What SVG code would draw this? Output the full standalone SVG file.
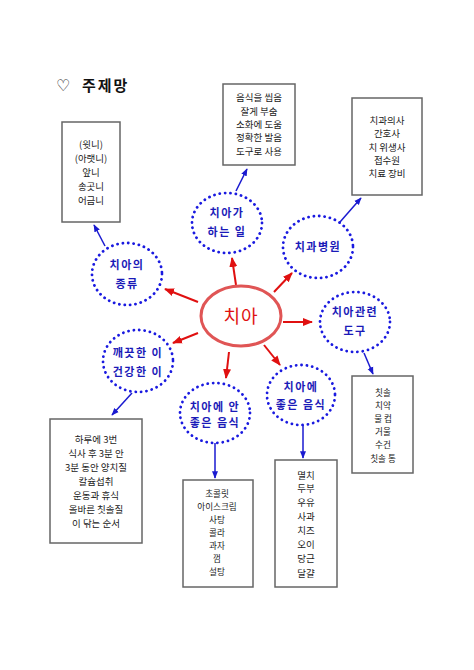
<svg xmlns="http://www.w3.org/2000/svg" width="474" height="670" viewBox="0 0 474 670">
<defs>
<marker id="ra" viewBox="0 0 10 10" refX="9" refY="5" markerWidth="5" markerHeight="5" orient="auto" markerUnits="strokeWidth"><path d="M0,1 L10,5 L0,9 z" fill="#e01010"/></marker>
<marker id="ba" viewBox="0 0 10 10" refX="9" refY="5" markerWidth="5" markerHeight="5" orient="auto" markerUnits="strokeWidth"><path d="M0,1 L10,5 L0,9 z" fill="#1a1ad0"/></marker>
<style>
.dot{fill:#fff;stroke:#1a1ae0;stroke-width:2.8;stroke-dasharray:0.1 5.3;stroke-linecap:round}
.ct{font-family:"Noto Sans CJK KR",sans-serif;font-size:11px;font-weight:bold;fill:#1a1ab8;text-anchor:middle;letter-spacing:1.5px}
.box{fill:#fff;stroke:#666;stroke-width:1.5}
.bt{font-family:"Noto Sans CJK KR",sans-serif;font-size:9.5px;fill:#222;text-anchor:middle}
.bs{font-size:8.6px}
.red{stroke:#e01010;stroke-width:2;fill:none;marker-end:url(#ra)}
.blue{stroke:#1a1ad0;stroke-width:1.5;fill:none;marker-end:url(#ba)}
</style>
</defs>
<rect width="474" height="670" fill="#fff"/>
<g id="title"><text x="56" y="91" font-family="DejaVu Sans,sans-serif" font-size="16" font-weight="bold" fill="#111">♡</text><text x="82" y="91" font-family="Noto Sans CJK KR,sans-serif" font-size="15" font-weight="bold" fill="#111" letter-spacing="2">주제망</text></g>

<g id="connectors">
<line class="red" x1="236" y1="285" x2="232" y2="258"/>
<line class="red" x1="274" y1="292" x2="292" y2="273"/>
<line class="red" x1="198" y1="302" x2="165" y2="289"/>
<line class="red" x1="283" y1="322" x2="312" y2="322"/>
<line class="red" x1="198" y1="333" x2="173" y2="343"/>
<line class="red" x1="229" y1="352" x2="226" y2="378"/>
<line class="red" x1="264" y1="345" x2="280" y2="365"/>
<line class="blue" x1="105" y1="246" x2="94" y2="225"/>
<line class="blue" x1="236" y1="191" x2="247" y2="169"/>
<line class="blue" x1="340" y1="222" x2="361" y2="198"/>
<line class="blue" x1="364" y1="353" x2="373" y2="374"/>
<line class="blue" x1="132" y1="393" x2="112" y2="415"/>
<line class="blue" x1="215" y1="443" x2="215" y2="478"/>
<line class="blue" x1="303" y1="425" x2="303" y2="458"/>
</g>

<g id="center"><ellipse cx="241" cy="316" rx="40" ry="30" fill="#fff" stroke="#e05555" stroke-width="3"/><text x="241" y="323" font-family="Noto Sans CJK KR,sans-serif" font-size="18" fill="#e01010" text-anchor="middle" letter-spacing="1">치아</text></g>

<g id="c-role"><ellipse class="dot" cx="227" cy="223" rx="35" ry="30"/><text class="ct" x="227" y="217">치아가</text><text class="ct" x="227" y="236">하는 일</text></g>
<g id="c-clinic"><ellipse class="dot" cx="318" cy="247" rx="35" ry="31"/><text class="ct" x="318" y="251">치과병원</text></g>
<g id="c-types"><ellipse class="dot" cx="127" cy="274" rx="35" ry="31"/><text class="ct" x="127" y="269">치아의</text><text class="ct" x="127" y="288">종류</text></g>
<g id="c-tools"><ellipse class="dot" cx="355" cy="322" rx="35" ry="30"/><text class="ct" x="355" y="316">치아관련</text><text class="ct" x="355" y="335">도구</text></g>
<g id="c-clean"><ellipse class="dot" cx="138" cy="361" rx="35" ry="31"/><text class="ct" x="138" y="357">깨끗한 이</text><text class="ct" x="138" y="376">건강한 이</text></g>
<g id="c-bad"><ellipse class="dot" cx="215" cy="413" rx="35" ry="30"/><text class="ct" x="215" y="411">치아에 안</text><text class="ct" x="215" y="427">좋은 음식</text></g>
<g id="c-good"><ellipse class="dot" cx="301" cy="395" rx="34" ry="30"/><text class="ct" x="301" y="391">치아에</text><text class="ct" x="301" y="409">좋은 음식</text></g>

<g id="b-types"><rect class="box" x="62" y="122" width="58" height="100"/><text class="bt" x="91" y="148">(윗니)</text><text class="bt" x="91" y="162">(아랫니)</text><text class="bt" x="91" y="176">앞니</text><text class="bt" x="91" y="190">송곳니</text><text class="bt" x="91" y="204">어금니</text></g>
<g id="b-role"><rect class="box" x="223" y="84" width="72" height="81"/><text class="bt" x="259" y="101">음식을 씹음</text><text class="bt" x="259" y="115">잘게 부숨</text><text class="bt" x="259" y="128">소화에 도움</text><text class="bt" x="259" y="141">정확한 발음</text><text class="bt" x="259" y="155">도구로 사용</text></g>
<g id="b-clinic"><rect class="box" x="352" y="98" width="70" height="97"/><text class="bt" x="387" y="124">치과의사</text><text class="bt" x="387" y="137">간호사</text><text class="bt" x="387" y="151">치 위생사</text><text class="bt" x="387" y="164">접수원</text><text class="bt" x="387" y="177">치료 장비</text></g>
<g id="b-tools"><rect class="box" x="352" y="376" width="61" height="97"/><text class="bt bs" x="383" y="396">칫솔</text><text class="bt bs" x="383" y="409">치약</text><text class="bt bs" x="383" y="422">물 컵</text><text class="bt bs" x="383" y="435">거울</text><text class="bt bs" x="383" y="448">수건</text><text class="bt bs" x="383" y="462">칫솔 통</text></g>
<g id="b-clean"><rect class="box" x="50" y="419" width="92" height="124"/><text class="bt" x="96" y="443">하루에 3번</text><text class="bt" x="96" y="457">식사 후 3분 안</text><text class="bt" x="96" y="471">3분 동안 양치질</text><text class="bt" x="96" y="485">칼슘섭취</text><text class="bt" x="96" y="499">운동과 휴식</text><text class="bt" x="96" y="513">올바른 칫솔질</text><text class="bt" x="96" y="527">이 닦는 순서</text></g>
<g id="b-bad"><rect class="box" x="183" y="480" width="70" height="107"/><text class="bt bs" x="217" y="497">초콜릿</text><text class="bt bs" x="217" y="510">아이스크림</text><text class="bt bs" x="217" y="523">사탕</text><text class="bt bs" x="217" y="536">콜라</text><text class="bt bs" x="217" y="549">과자</text><text class="bt bs" x="217" y="562">껌</text><text class="bt bs" x="217" y="575">설탕</text></g>
<g id="b-good"><rect class="box" x="275" y="460" width="62" height="127"/><text class="bt" x="306" y="479">멸치</text><text class="bt" x="306" y="492">두부</text><text class="bt" x="306" y="506">우유</text><text class="bt" x="306" y="520">사과</text><text class="bt" x="306" y="534">치즈</text><text class="bt" x="306" y="548">오이</text><text class="bt" x="306" y="562">당근</text><text class="bt" x="306" y="577">달걀</text></g>
</svg>
